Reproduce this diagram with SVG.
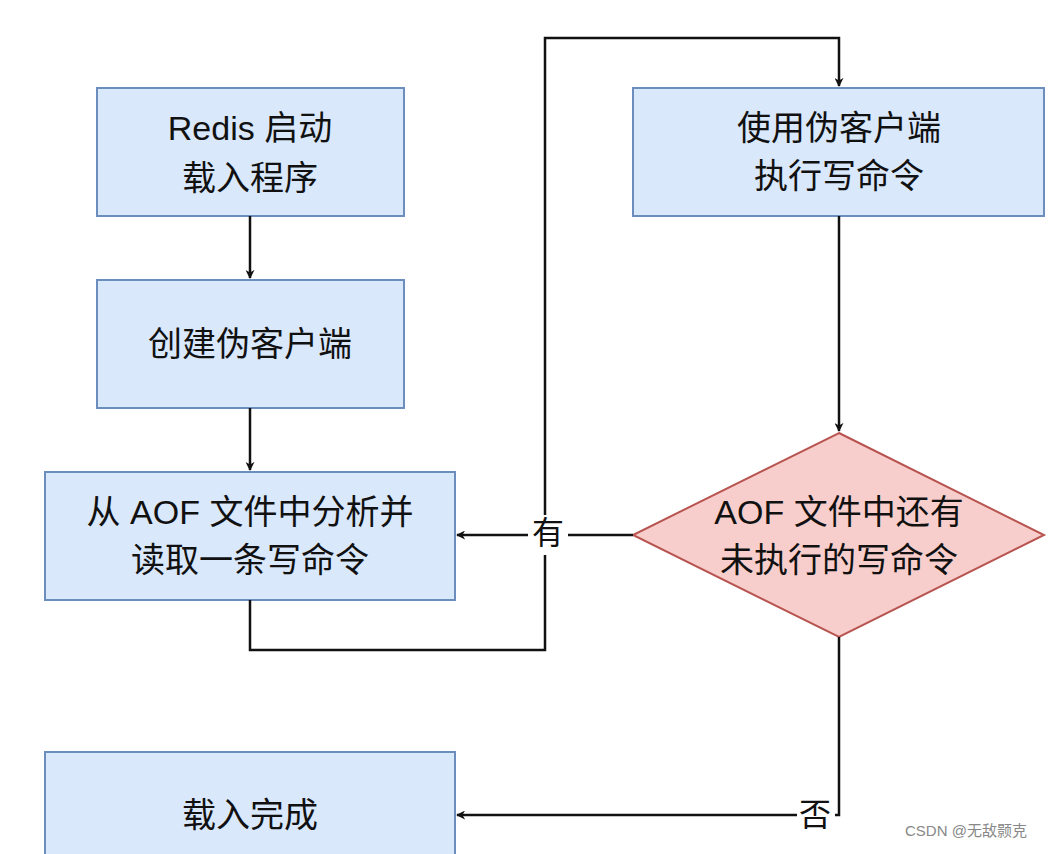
<svg xmlns="http://www.w3.org/2000/svg" width="1056" height="854" viewBox="0 0 1056 854">
<defs>
<style>
.box{fill:#dae8fc;stroke:#6c8ebf;stroke-width:2}
.dia{fill:#f8cecc;stroke:#b85450;stroke-width:2}
.t{font-family:"Liberation Sans","Noto Sans CJK SC",sans-serif;font-size:34px;fill:#111;text-anchor:middle;dominant-baseline:central}
.e{fill:none;stroke:#111;stroke-width:2.5}
.lbl{font-family:"Liberation Sans","Noto Sans CJK SC",sans-serif;font-size:32px;fill:#111;text-anchor:middle;dominant-baseline:central}
</style>
<marker id="a" viewBox="0 0 10 10" refX="9" refY="5" markerWidth="9" markerHeight="9" markerUnits="userSpaceOnUse" orient="auto"><path d="M0,0L10,5L0,10L3,5z" fill="#111"/></marker>
</defs>
<rect width="1056" height="854" fill="#fff"/>
<g id="n1"><rect class="box" x="97" y="88" width="307" height="128"/><text class="t" x="250" y="128">Redis 启动</text><text class="t" x="250" y="178">载入程序</text></g>
<g id="n2"><rect class="box" x="97" y="280" width="307" height="128"/><text class="t" x="250" y="344">创建伪客户端</text></g>
<g id="n3"><rect class="box" x="45" y="472" width="410" height="128"/><text class="t" x="250" y="512">从 AOF 文件中分析并</text><text class="t" x="250" y="560">读取一条写命令</text></g>
<g id="n4"><rect class="box" x="45" y="752" width="410" height="120"/><text class="t" x="250" y="815">载入完成</text></g>
<g id="n5"><rect class="box" x="633" y="88" width="411" height="128"/><text class="t" x="839" y="128">使用伪客户端</text><text class="t" x="839" y="176">执行写命令</text></g>
<g id="n6"><polygon class="dia" points="839,433 1044,535 839,637 633,535"/><text class="t" x="839" y="512">AOF 文件中还有</text><text class="t" x="839" y="560">未执行的写命令</text></g>
<g id="edges">
<path class="e" d="M250,216V278" marker-end="url(#a)"/>
<path class="e" d="M250,408V470" marker-end="url(#a)"/>
<path class="e" d="M250,600V650H545V38H839V86" marker-end="url(#a)"/>
<path class="e" d="M839,216V431" marker-end="url(#a)"/>
<path class="e" d="M633,535H457" marker-end="url(#a)"/>
<path class="e" d="M839,637V815H457" marker-end="url(#a)"/>
<rect x="528" y="515" width="40" height="40" fill="#fff"/>
<text class="lbl" x="548" y="533">有</text>
<rect x="797" y="797" width="38" height="38" fill="#fff"/>
<text class="lbl" x="815" y="815">否</text>
</g>
<text x="905" y="836" font-family="Liberation Sans,Noto Sans CJK SC,sans-serif" font-size="15" fill="#888">CSDN @无敌颢克</text>
</svg>
